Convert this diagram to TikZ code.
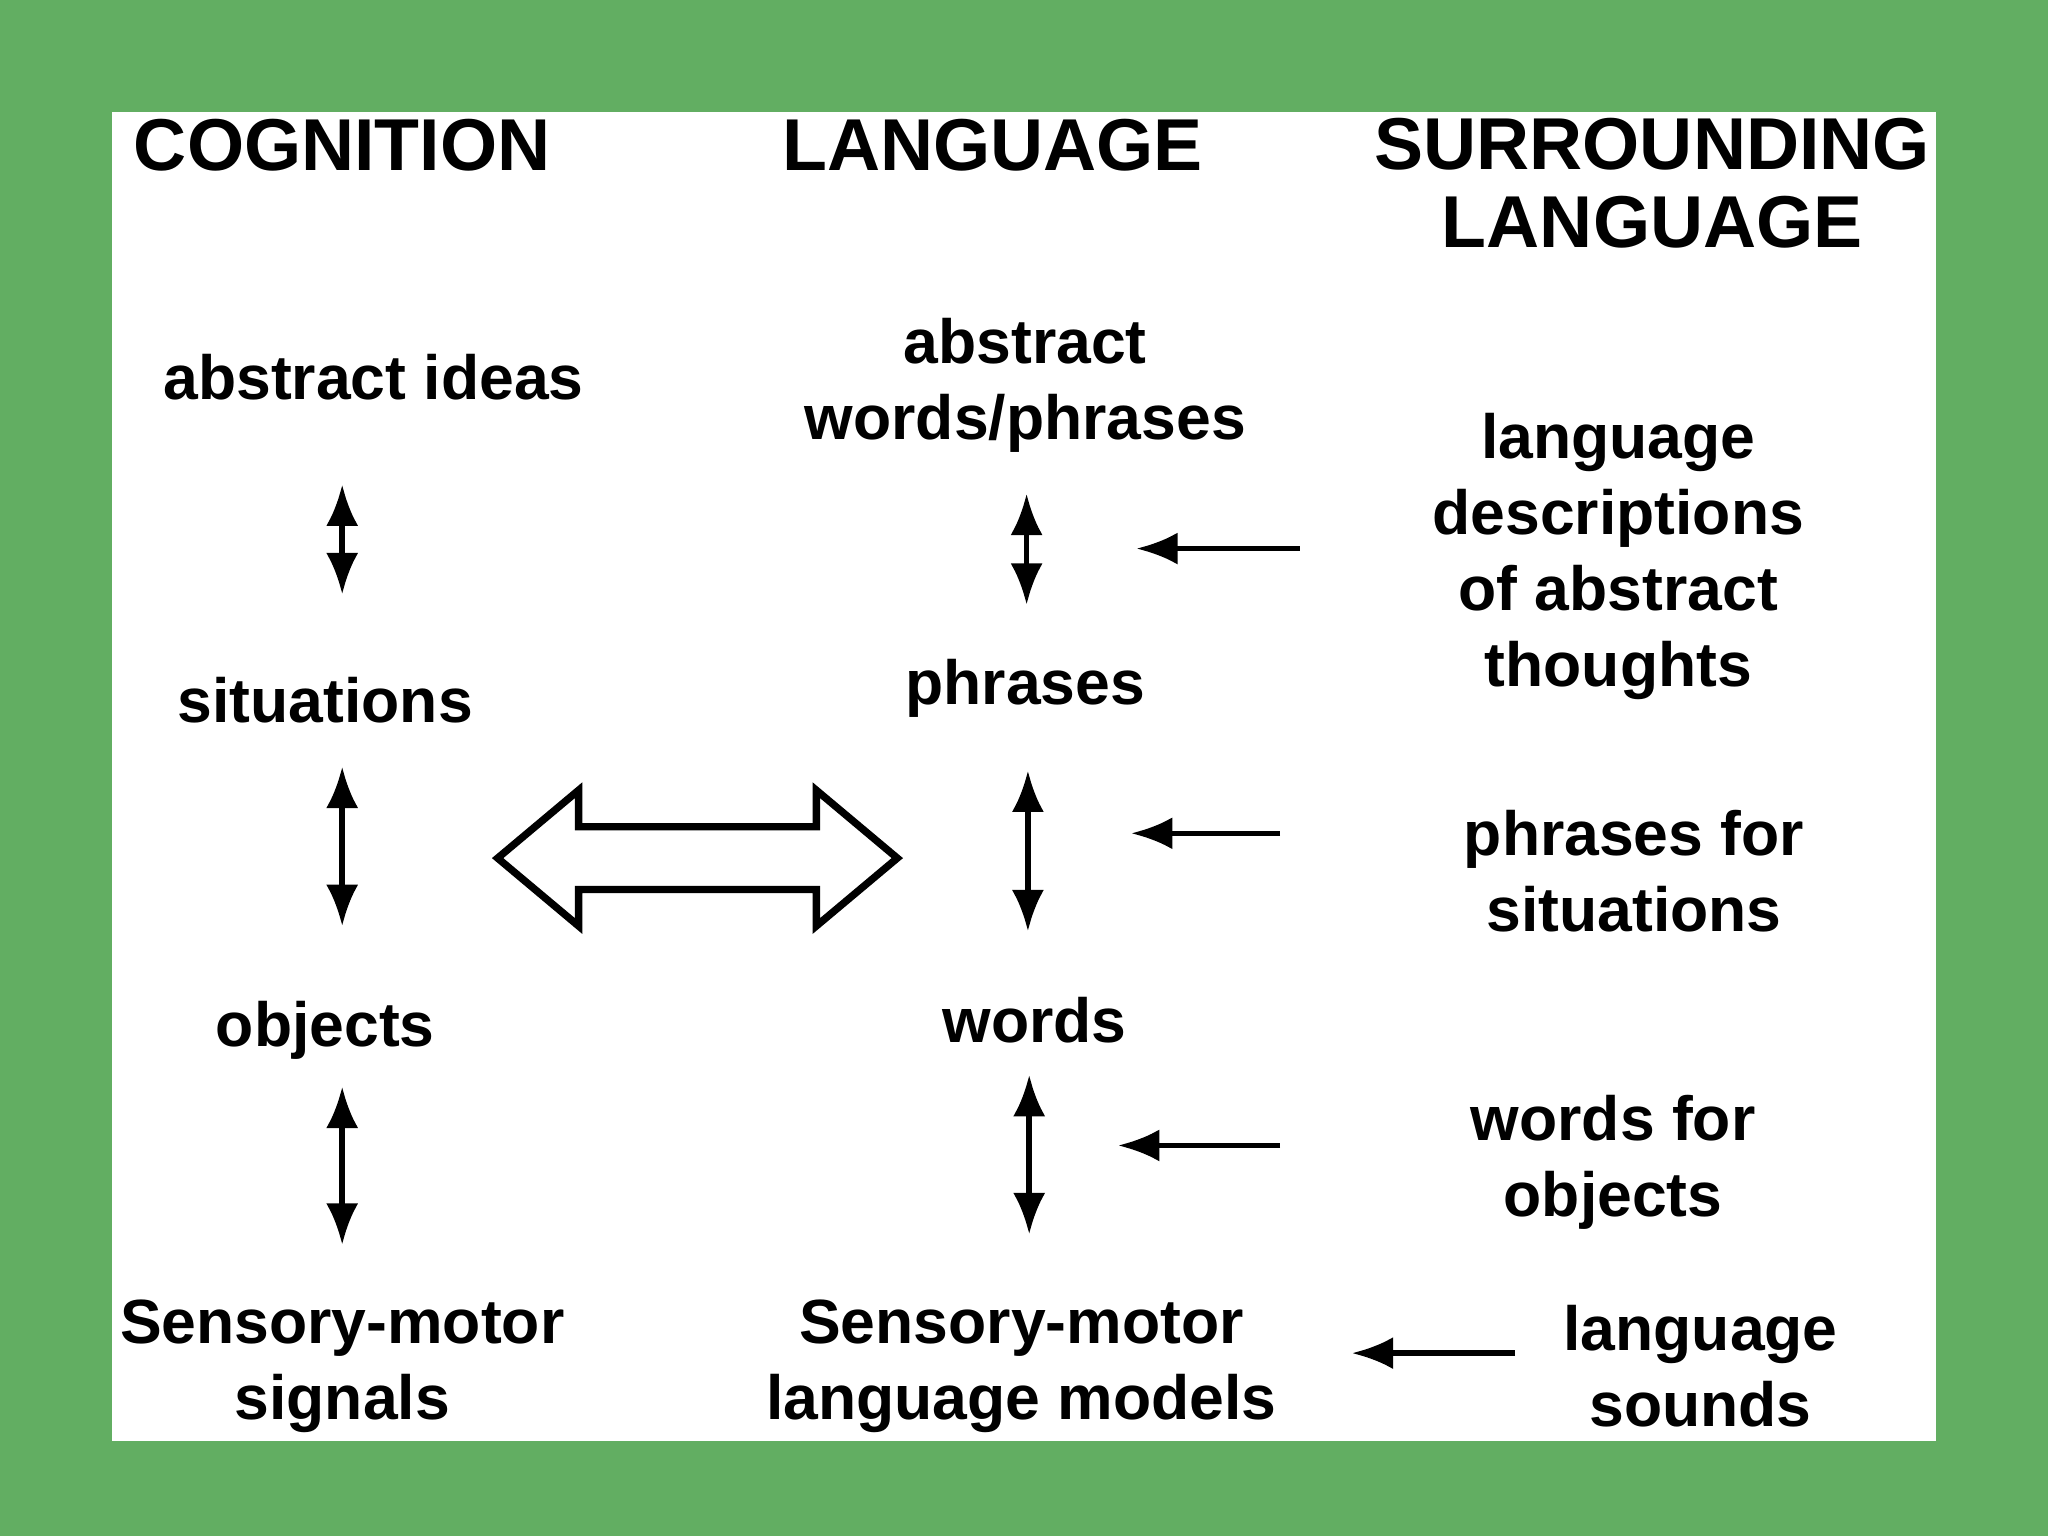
\documentclass[tikz,border=0pt]{standalone}
\usepackage{fontspec}
\setmainfont{Liberation Sans}
\usetikzlibrary{arrows.meta}
\definecolor{bggreen}{HTML}{62AE62}
\begin{document}
\begin{tikzpicture}[x=0.01cm,y=-0.01cm,
  hd/.style={font=\fontsize{16}{17}\selectfont\bfseries,align=center,inner sep=0pt},
  tx/.style={font=\fontsize{13.6}{16.5}\selectfont\bfseries,align=center,inner sep=0pt},
  dbl/.style={{Latex[length=9pt,width=7pt]}-{Latex[length=9pt,width=7pt]},line width=1.2pt},
  sgl/.style={-{Latex[length=9pt,width=7pt]},line width=1.2pt}]
\fill[bggreen] (0,0) rectangle (1568,1176);
\fill[white] (86,86) rectangle (1482,1103);
\node[hd] (hc) at (262,111) {COGNITION};
\node[hd] (hl) at (760,111) {LANGUAGE};
\node[hd] (hs) at (1265,140) {SURROUNDING\\LANGUAGE};
\node[tx] (c1) at (286,289) {abstract ideas};
\node[tx] (c2) at (249,536) {situations};
\node[tx] (c3) at (249,789) {objects};
\node[tx] (c4) at (262,1046) {Sensory-motor\\signals};
\node[tx] (l1) at (785,295) {abstract\\words/phrases};
\node[tx] (l2) at (785,527) {phrases};
\node[tx] (l3) at (792,781) {words};
\node[tx] (l4) at (782,1046) {Sensory-motor\\language models};
\node[tx] (s1) at (1239,426) {language\\descriptions\\of abstract\\thoughts};
\node[tx] (s2) at (1251,667) {phrases for\\situations};
\node[tx] (s3) at (1235,890) {words for\\objects};
\node[tx] (s4) at (1302,1046) {language\\sounds};
\coordinate (a1) at (262,371); \coordinate (b1) at (262,455);
\coordinate (a2) at (262,587); \coordinate (b2) at (262,709);
\coordinate (a3) at (262,832); \coordinate (b3) at (262,953);
\coordinate (m1) at (786,378); \coordinate (n1) at (786,463);
\coordinate (m2) at (787,590); \coordinate (n2) at (787,713);
\coordinate (m3) at (788,823); \coordinate (n3) at (788,945);
\draw[dbl] (a1) -- (b1); \draw[dbl] (a2) -- (b2); \draw[dbl] (a3) -- (b3);
\draw[dbl] (m1) -- (n1); \draw[dbl] (m2) -- (n2); \draw[dbl] (m3) -- (n3);
\coordinate (p1) at (995,420); \coordinate (q1) at (870,420);
\coordinate (p2) at (980,638); \coordinate (q2) at (866,638);
\coordinate (p3) at (980,877); \coordinate (q3) at (856,877);
\coordinate (p4) at (1160,1036); \coordinate (q4) at (1035,1036);
\draw[sgl] (p1) -- (q1); \draw[sgl] (p2) -- (q2);
\draw[sgl] (p3) -- (q3); \draw[sgl] (p4) -- (q4);
\draw[line width=1.6pt,line join=miter,fill=white] (381,657) -- (443,605) -- (443,633) -- (625,633) -- (625,605) -- (687,657) -- (625,709) -- (625,681) -- (443,681) -- (443,709) -- cycle;
\end{tikzpicture}
\end{document}
